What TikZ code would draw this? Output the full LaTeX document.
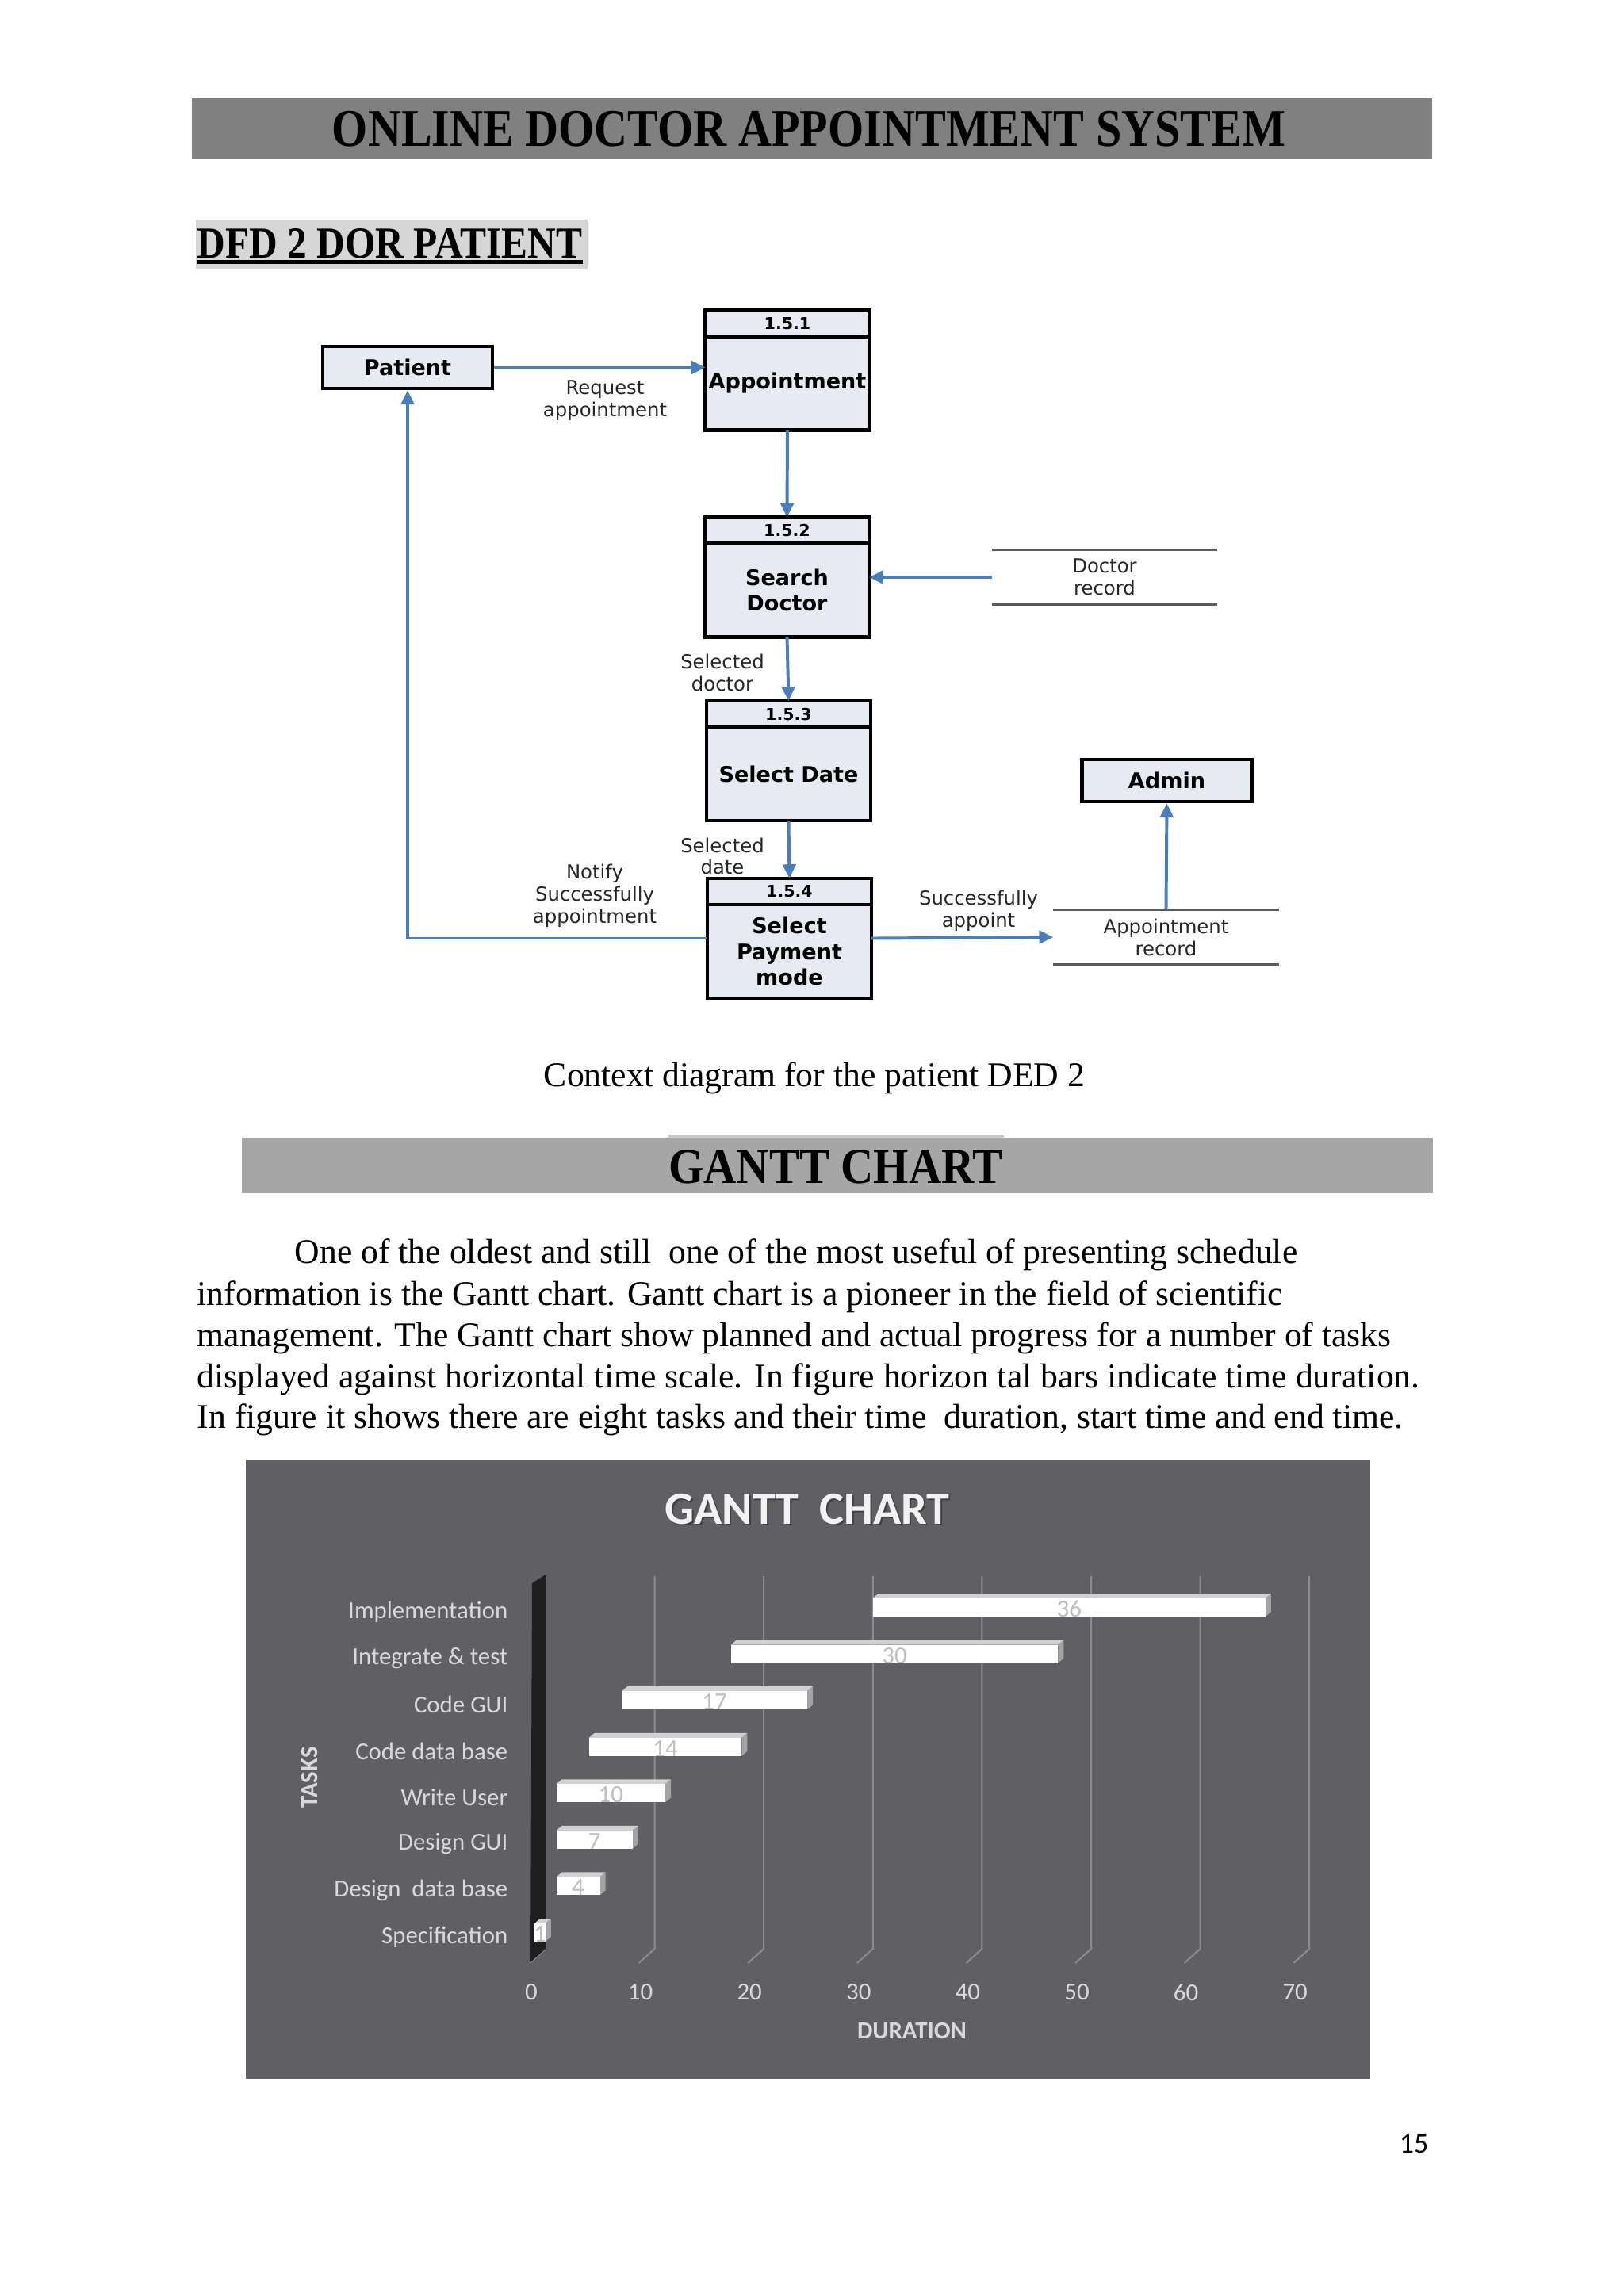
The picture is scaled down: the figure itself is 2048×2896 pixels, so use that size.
\documentclass[tikz,border=0pt]{standalone}
\usepackage{fontspec}
\usepackage{graphicx}
\setmainfont{Liberation Serif}
\newfontfamily\dfdfont{DejaVu Sans}
\newfontfamily\chartfont{Carlito}
\usetikzlibrary{arrows.meta,positioning,calc}
\definecolor{dfdblue}{HTML}{4A7EBB}
\definecolor{procfill}{HTML}{E7EAF3}
\definecolor{storegray}{HTML}{5A5A5A}
\definecolor{headdark}{HTML}{808080}
\definecolor{headlight}{HTML}{D6D6D6}
\definecolor{headmid}{HTML}{A6A6A6}
\definecolor{chartbg}{HTML}{605F63}
\definecolor{charttext}{HTML}{D9D9D9}
\definecolor{gridgray}{HTML}{8C8B90}
\def\pu{0.29175pt} % one pixel of the page

\tikzset{
  proc/.style={draw, fill=procfill, line width=1.3pt, minimum width=207*\pu,
    minimum height=151*\pu, inner sep=0pt, outer sep=0pt},
  procnum/.style={draw, line width=1.3pt, anchor=north, minimum width=207*\pu,
    minimum height=33*\pu, inner sep=0pt, outer sep=0pt,
    font=\dfdfont\fontsize{6}{7}\selectfont\bfseries},
  proctxt/.style={align=center, inner sep=0pt, font=\dfdfont\fontsize{7.9}{9.4}\selectfont\bfseries},
  entity/.style={draw, fill=procfill, line width=1.3pt, minimum width=214*\pu,
    minimum height=53*\pu, inner sep=0pt, font=\dfdfont\fontsize{7.9}{9.4}\selectfont\bfseries},
  store/.style={minimum width=283*\pu, minimum height=68*\pu, inner sep=0pt, align=center,
    font=\dfdfont\fontsize{7.1}{8.2}\selectfont, text=black!85},
  storeline/.style={draw=storegray, line width=0.9pt},
  flowlab/.style={align=center, inner sep=0pt, font=\dfdfont\fontsize{7.1}{8.1}\selectfont, text=black!85},
  flow/.style={draw=dfdblue, line width=1.15pt, -{Triangle[length=5.2pt,width=4.8pt]}},
  bodyline/.style={anchor=base west, inner sep=0pt, font=\fontsize{12.75}{15}\selectfont},
  tasklab/.style={anchor=east, inner sep=0pt, text=charttext, font=\chartfont\fontsize{9}{11}\selectfont},
  ticklab/.style={inner sep=0pt, text=charttext, font=\chartfont\fontsize{9}{11}\selectfont},
  vallab/.style={inner sep=0pt, text=black!25, font=\chartfont\fontsize{9}{11}\selectfont},
  bartop/.style={fill=black!18},
  barside/.style={fill=black!36},
}

\begin{document}
\begin{tikzpicture}[x=0.01025390625cm, y=-0.01025390625cm]
\useasboundingbox (0,0) rectangle (2048,2896);
\fill[white] (0,0) rectangle (2048,2896);

% page header
\fill[headdark] (242,124) rectangle (1806,200);
\node[anchor=base, inner sep=0pt, font=\fontsize{19.5}{22}\selectfont\bfseries] (title) at (1020,184)
  {\scalebox{0.87}[1]{ONLINE DOCTOR APPOINTMENT SYSTEM}};

% section heading
\fill[headlight] (247,277) rectangle (741,339);
\node[anchor=base west, inner sep=0pt, font=\fontsize{16.3}{19}\selectfont\bfseries] (dfdhead) at (248,325)
  {\scalebox{0.885}[1]{DFD 2 DOR PATIENT}};
\fill[black] (248,328) rectangle (dfdhead.east |- 0,333);

% data flow diagram
\node[entity] (pat) at (514,463.5) {Patient};
\node[proc] (appt) at (993,467) {};
\node[procnum] (apptnum) at (appt.north) {1.5.1};
\node[proctxt] (appttxt) at ($(appt.center)+(0,16.5)$) {Appointment};
\node[proc] (srch) at (992.5,728) {};
\node[procnum] (srchnum) at (srch.north) {1.5.2};
\node[proctxt] (srchtxt) at ($(srch.center)+(0,16.5)$) {Search\\Doctor};
\node[proc] (date) at (994.5,959.5) {};
\node[procnum] (datenum) at (date.north) {1.5.3};
\node[proctxt] (datetxt) at ($(date.center)+(0,16.5)$) {Select Date};
\node[proc] (pay) at (995.5,1183.5) {};
\node[procnum] (paynum) at (pay.north) {1.5.4};
\node[proctxt] (paytxt) at ($(pay.center)+(0,16.5)$) {Select\\Payment\\mode};
\node[entity] (admin) at (1471.5,984.5) {Admin};

\node[store] (docrec) at (1393,728) {Doctor\\record};
\draw[storeline] (docrec.north west) -- (docrec.north east) (docrec.south west) -- (docrec.south east);
\node[store] (aptrec) at (1470.5,1182) {Appointment\\record};
\draw[storeline] (aptrec.north west) -- (aptrec.north east) (aptrec.south west) -- (aptrec.south east);

\draw[flow] (pat.east) -- (pat.east -| appt.west);
\draw[flow] (appt.south) -- (srch.north);
\draw[flow] (srch.south) -- (date.north);
\draw[flow] (date.south) -- (pay.north);
\draw[flow] (docrec.west) -- (srch.east);
\draw[flow] (pay.east) -- (aptrec.west);
\draw[flow] (aptrec.north) -- (admin.south);
\draw[flow] (pay.west) -| (pat.south);

\node[flowlab] (lreq) at (763,505) {Request\\appointment};
\node[flowlab] (lseldoc) at (911,848.5) {Selected\\doctor};
\node[flowlab] (lseldate) at (911,1080) {Selected\\date};
\node[flowlab] (lnotify) at (750,1130) {Notify\\Successfully\\appointment};
\node[flowlab] (lsucc) at (1234,1149) {Successfully\\appoint};

\node[anchor=base, inner sep=0pt, font=\fontsize{12.75}{15}\selectfont] (caption) at (1027,1370)
  {Context diagram for the patient DED 2};

% gantt heading
\fill[headmid] (305,1435) rectangle (1807,1505);
\fill[black!22] (843,1431) rectangle (1266,1436);
\node[anchor=base, inner sep=0pt, font=\fontsize{18.5}{21}\selectfont\bfseries] (gantthead) at (1054,1492)
  {\scalebox{0.9}[1]{GANTT CHART}};

% paragraph, one node per printed line
\foreach \n/\xx/\yy/\txt in {%
   1/371/1593/{One of the oldest and still\ \ one of the most useful of presenting schedule},
   2/248/1646/{information is the Gantt chart. Gantt chart is a pioneer in the field of scientific},
   3/248/1698/{management. The Gantt chart show planned and actual progress for a number of tasks},
   4/248/1750/{displayed against horizontal time scale. In figure horizon\hspace{3pt}tal bars indicate time duration.},
   5/248/1801/{In figure it shows there are eight tasks and their time\ \ duration, start time and end time.}}{
   \node[bodyline] (body\n) at (\xx,\yy) {\txt};
}

% chart panel
\fill[chartbg] (310,1841) rectangle (1728,2622);
\node[anchor=base, inner sep=0pt, text=black!75, font=\chartfont\bfseries\fontsize{17}{20}\selectfont]
  (ctitleshade) at (1020,1924) {GANTT\ \ CHART};
\node[anchor=base, inner sep=0pt, text=black!5, font=\chartfont\bfseries\fontsize{17}{20}\selectfont]
  (ctitle) at (1018,1922) {GANTT\ \ CHART};

% gridlines on wall and floor, tick values
\foreach \v in {0,...,7}{
   \pgfmathtruncatemacro\tv{10*\v}
   \draw[gridgray, line width=0.6pt] (688+137.6*\v,1988) -- (688+137.6*\v,2458) -- (668+137.6*\v,2476);
   \node[ticklab] (tick\v) at (670+137.6*\v,2513) {\tv};
}
% axis wall
\fill[black!88] (671,1997) -- (688,1986) -- (688,2458) -- (669,2475) -- cycle;

% bars: row/start/duration/task
\foreach \i/\s/\d/\lab in {%
   0/0/1/Specification,
   1/2/4/{Design\ \ data base},
   2/2/7/Design GUI,
   3/2/10/Write User,
   4/5/14/Code data base,
   5/8/17/Code GUI,
   6/18/30/{Integrate \& test},
   7/31/36/Implementation}{
   \pgfmathsetmacro\yy{2437.5-58.57*\i}
   \pgfmathsetmacro\xa{674+13.76*\s}
   \pgfmathsetmacro\xb{674+13.76*(\s+\d)}
   \fill[bartop] (\xa,\yy-11.5) -- (\xa+7,\yy-17.5) -- (\xb+7,\yy-17.5) -- (\xb,\yy-11.5) -- cycle;
   \fill[barside] (\xb,\yy-11.5) -- (\xb+7,\yy-17.5) -- (\xb+7,\yy+5.5) -- (\xb,\yy+11.5) -- cycle;
   \fill[white] (\xa,\yy-11.5) rectangle (\xb,\yy+11.5);
   \node[vallab] (val\i) at ({(\xa+\xb)/2},\yy+2) {\d};
   \node[tasklab] (task\i) at (641,\yy+5.5) {\lab};
}

% axis titles
\node[rotate=90, inner sep=0pt, text=charttext, font=\chartfont\bfseries\fontsize{9}{11}\selectfont]
  (ytitle) at (390,2242) {TASKS};
\node[inner sep=0pt, text=charttext, font=\chartfont\bfseries\fontsize{9}{11}\selectfont]
  (xtitle) at (1150,2561) {DURATION};

\node[anchor=base east, inner sep=0pt, font=\chartfont\fontsize{10.5}{12}\selectfont] (pagenum) at (1802,2715) {15};
\end{tikzpicture}
\end{document}
